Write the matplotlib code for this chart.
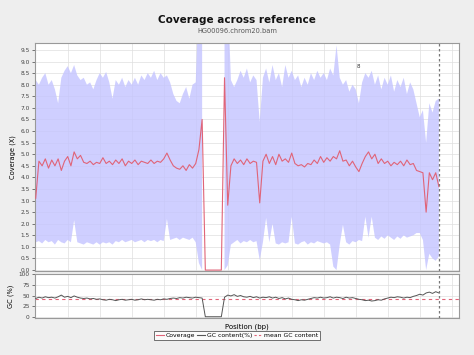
import numpy as np
import matplotlib
matplotlib.use("Agg")
import matplotlib.pyplot as plt
from matplotlib.lines import Line2D

# window positions along chr20 (Mbp), 0.5 Mbp steps up to the chromosome end
pos_mbp = np.arange(0, 63.01, 0.5)
chrom_end_mbp = 63.0
nan = np.nan

# mean coverage per window
cov_mean = [
    3.1, 4.7, 4.5, 4.8, 4.4, 4.75, 4.5, 4.8, 4.3, 4.7,
    4.9, 4.5, 5.1, 4.8, 4.95, 4.65, 4.6, 4.7, 4.55, 4.65,
    4.6, 4.85, 4.6, 4.7, 4.55, 4.75, 4.6, 4.8, 4.5, 4.7,
    4.6, 4.75, 4.55, 4.7, 4.65, 4.6, 4.75, 4.6, 4.7, 4.65,
    4.8, 5.05, 4.75, 4.5, 4.4, 4.35, 4.5, 4.3, 4.55, 4.4,
    4.6, 5.2, 6.5, 0, 0, 0, 0, 0, 0, 8.3,
    2.8, 4.5, 4.8, 4.6, 4.75, 4.55, 4.8, 4.6, 4.7, 4.65,
    2.9, 4.7, 5.0, 4.6, 4.9, 4.55, 5.0, 4.7, 4.8, 4.65,
    5.05, 4.6, 4.5, 4.55, 4.45, 4.6, 4.55, 4.75, 4.6, 4.9,
    4.65, 4.85, 4.7, 4.9, 4.8, 5.15, 4.7, 4.75, 4.5, 4.7,
    4.45, 4.25, 4.6, 4.9, 5.1, 4.8, 5.0, 4.6, 4.8, 4.6,
    4.7, 4.5, 4.65, 4.55, 4.7, 4.5, 4.75, 4.55, 4.6, 4.3,
    4.25, 4.2, 2.5, 4.2, 3.9, 4.2, 3.6,
]

# mean + std (upper edge of band)
cov_upper = [
    8.2, 8.0, 8.3, 8.5, 8.0, 8.2, 7.8, 7.2, 8.3, 8.6,
    8.8, 8.5, 8.85, 8.4, 8.2, 8.3, 8.0, 8.1, 7.8, 8.2,
    8.5, 8.3, 8.55, 8.1, 7.4, 8.2, 8.0, 8.3, 7.9, 8.2,
    8.0, 8.3, 8.0, 8.4, 8.2, 8.5, 8.3, 8.6, 8.2, 8.5,
    8.3, 8.4, 8.1, 7.6, 7.3, 7.2, 7.6, 7.9, 7.4, 8.0,
    8.1, 12, 12, nan, nan, nan, nan, nan, nan, 12,
    12, 8.2, 7.9, 8.2, 8.6, 8.3, 8.7, 8.1, 8.4, 8.2,
    6.4, 8.3, 8.7, 8.1, 8.85, 8.2, 8.5, 7.9, 8.85, 8.3,
    8.6, 8.2, 8.4, 7.9, 8.3, 8.0, 8.5, 8.2, 8.6, 8.3,
    8.5, 8.2, 8.7, 8.4, 9.7, 8.3, 8.0, 8.2, 7.7, 8.0,
    7.8, 7.2, 8.1, 8.5, 8.3, 8.6, 8.0, 8.4, 7.8, 8.3,
    8.0, 8.4, 7.7, 8.2, 7.9, 8.3, 7.6, 8.1, 7.8, 7.2,
    6.6, 6.9, 5.5, 7.2, 6.8, 7.3, 7.4,
]

# mean - std (lower edge of band)
cov_lower = [
    1.2, 1.25, 1.15, 1.3, 1.2, 1.25, 1.1, 1.3, 1.2, 1.15,
    1.3, 1.2, 2.15, 1.2, 1.15, 1.1, 1.2, 1.15, 1.1, 1.2,
    1.1, 1.2, 1.15, 1.2, 1.1, 1.25, 1.2, 1.3, 1.2, 1.25,
    1.3, 1.2, 1.25, 1.3, 1.2, 1.3, 1.25, 1.3, 1.2, 1.3,
    1.25, 2.2, 1.3, 1.35, 1.4, 1.3, 1.4, 1.35, 1.3, 1.4,
    1.2, 0.3, 0, nan, nan, nan, nan, nan, nan, 0,
    0.2, 1.1, 1.2, 1.3, 1.15, 1.25, 1.2, 1.3, 1.2, 1.25,
    0.43, 1.2, 2.25, 1.2, 2.0, 1.15, 1.1, 1.2, 1.15, 1.2,
    2.3, 1.15, 1.1, 1.2, 1.25, 1.1, 1.2, 1.15, 1.25, 1.2,
    1.15, 1.2, 1.1, 0.15, 0.0, 1.1, 1.95, 1.2, 1.1, 1.25,
    1.2, 1.3, 1.25, 2.3, 1.4, 2.3, 1.4, 1.3, 1.45, 1.35,
    1.5, 1.4, 1.3, 1.45, 1.35, 1.5, 1.4, 1.45, 1.5, 1.6,
    1.6, 1.3, 0, 0.7, 0.5, 0.4, 0.6,
]

# GC content (%) per window
gc_pct = [
    43, 46, 44, 47, 45, 46, 44, 47, 51, 46,
    48, 45, 49, 46, 44, 43, 44, 42, 43, 41,
    42, 40, 39, 41, 40, 38, 40, 41, 39, 40,
    41, 39, 40, 42, 40, 41, 40, 39, 41, 40,
    42, 41, 43, 44, 43, 45, 44, 46, 45, 44,
    46, 45, 44, 0, 0, 0, 0, 0, 0, 46,
    51, 49, 52, 48, 50, 47, 46, 48, 45, 47,
    44, 46, 45, 47, 44, 46, 43, 45, 42, 44,
    41, 40, 38, 40, 39, 41, 43, 45, 44, 46,
    44, 45, 47, 44, 46, 45, 43, 46, 44, 45,
    43, 41, 40, 38, 39, 37, 38, 40, 39, 42,
    44, 46, 45, 47, 46, 44, 46, 45, 48, 50,
    53, 51, 56, 58, 55, 59, 56,
]
gc_mean = 41

cov_ticks = np.arange(0, 9.51, 0.5)
gc_ticks = [0, 25, 50, 75, 100]

pos = pos_mbp * 1e6
red = "#e06478"
band = "#c4c4ff"
grid_c = "#dedede"

fig = plt.figure(figsize=(4.74, 3.55), dpi=100, facecolor="#eeeeee")
ax = fig.add_axes([0.0728, 0.2366, 0.8956, 0.6423])
ax2 = fig.add_axes([0.0728, 0.1042, 0.8956, 0.1240])

xlim = (-0.19e6, 66.14e6)
xgrid = np.arange(5, 66, 5) * 1e6

ax.fill_between(pos, np.array(cov_lower, float), np.array(cov_upper, float),
                color=band, alpha=0.8, lw=0, zorder=2)
ax.plot(pos, cov_mean, color=red, lw=0.8, zorder=3)
ax.axvline(chrom_end_mbp * 1e6, color="#777777", ls=(0, (2, 2)), lw=0.9, zorder=4)
ax.text(50.4e6, 8.77, "8", fontsize=4, color="#333333", ha="center", va="center")
ax.set_xlim(*xlim)
ax.set_ylim(-0.04, 9.8)
ax.set_yticks(cov_ticks)
ax.set_yticklabels([f"{t:.1f}" for t in cov_ticks])
ax.set_ylabel("Coverage (X)", fontsize=4.8, labelpad=3)

ax2.plot(pos, gc_pct, color="#555555", lw=0.7, zorder=3)
ax2.axhline(gc_mean, color=red, ls=(0, (3, 3)), lw=0.8, zorder=2)
ax2.axvline(chrom_end_mbp * 1e6, color="#777777", ls=(0, (2, 2)), lw=0.9, zorder=4)
ax2.set_xlim(*xlim)
ax2.set_ylim(-3, 100.7)
ax2.set_yticks(gc_ticks)
ax2.set_ylabel("GC (%)", fontsize=4.8, labelpad=3)
ax2.set_xlabel("Position (bp)", fontsize=5, labelpad=0.5)

for a in (ax, ax2):
    a.set_facecolor("white")
    a.set_xticks(xgrid)
    a.set_xticklabels([])
    a.tick_params(axis="x", length=0)
    a.tick_params(axis="y", labelsize=4.2, length=2, width=0.5, pad=1.5,
                  colors="#444444")
    a.grid(True, color=grid_c, lw=0.5, zorder=0)
    a.set_axisbelow(True)
    for s in a.spines.values():
        s.set_color("#999999")
        s.set_linewidth(0.8)

fig.text(0.5, 0.945, "Coverage across reference", ha="center", va="center",
         fontsize=7.5, fontweight="bold", color="#111111")
fig.text(0.5, 0.912, "HG00096.chrom20.bam", ha="center", va="center",
         fontsize=4.8, color="#555555")

handles = [
    Line2D([], [], color=red, lw=0.8),
    Line2D([], [], color="#555555", lw=0.8),
    Line2D([], [], color=red, lw=0.8, ls=(0, (2, 2))),
]
leg = fig.legend(handles, ["Coverage", "GC content(%)", "mean GC content"],
                 loc="center", bbox_to_anchor=(0.5, 0.0555), ncol=3,
                 fontsize=4.4, frameon=True, fancybox=False, handlelength=1.2,
                 handletextpad=0.3, columnspacing=0.4, borderpad=0.3,
                 borderaxespad=0)
leg.get_frame().set_edgecolor("#333333")
leg.get_frame().set_linewidth(0.6)

fig.savefig("out.png", dpi=100, facecolor=fig.get_facecolor())
